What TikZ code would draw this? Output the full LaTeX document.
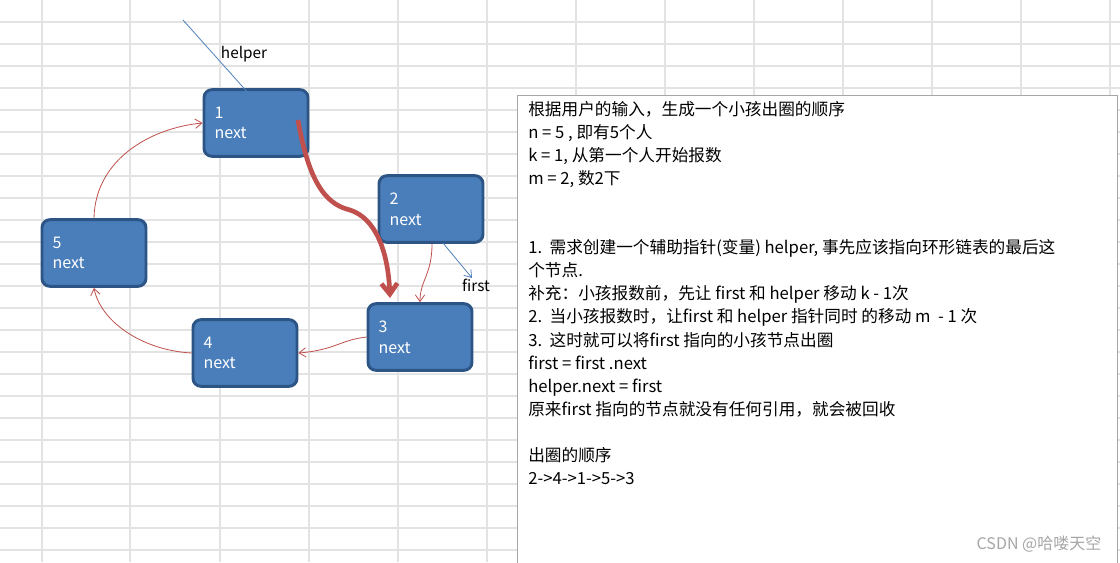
\documentclass[tikz,border=0pt]{standalone}
\usepackage{fontspec}
\setmainfont{Noto Sans CJK SC}
\usetikzlibrary{calc,arrows.meta}
\definecolor{boxblue}{HTML}{4A7EBB}
\definecolor{boxline}{HTML}{2C5585}
\definecolor{linkred}{HTML}{C0504D}
\definecolor{ptrblue}{HTML}{4F81BD}
\tikzset{
  knode/.style={draw=boxline,line width=2.2pt,fill=boxblue,rounded corners=6pt,
    minimum width=78pt,minimum height=50pt,text width=62pt,align=left,
    text=white,font=\fontsize{12}{15.5}\selectfont,inner sep=0pt},
  link/.style={draw=linkred,-{Straight Barb[length=5pt,width=7pt]},line width=0.6pt},
  ptr/.style={draw=ptrblue,line width=0.6pt}
}
\begin{document}
\begin{tikzpicture}[x=0.75pt,y=-0.75pt]
    \useasboundingbox(0,0)rectangle(1120,562);
    \fill[white](0,0)rectangle(1120,562);
    % grid of the sheet
    \foreach \y in {22,44,...,560}{
      \draw[black!11,line width=0.8pt](0,\y)--(1120,\y);
    }
    \foreach \x in {42,130,220,309,398,487,576,665,754,843,932,1021,1110}{
      \draw[black!11,line width=0.8pt](\x,0)--(\x,562);
    }
    % nodes of the ring
    \foreach \n/\x/\y in {1/256/123,2/431/209,3/420/337,4/245/353,5/94/253}{
      \node[knode](n\n) at(\x,\y) {\n\\next};
    }
    \draw[link](n5.north) .. controls (95,160) and (150,128) .. (n1.west);
    \draw[link](n4.west) .. controls (140,350) and (100,320) .. (n5.south);
    \draw[link](n3.west) .. controls (340,340) and (335,350) .. (n4.east);
    \draw[link](n2.south -| 432,0) .. controls (432,275) and (420,280) .. (n3.north);
    \draw[linkred,line width=3.5pt,-{Straight Barb[length=8pt,width=12pt]}]
      (298,120) .. controls (310,190) and (330,205) .. (350,210)
      .. controls (375,218) and (388,250) .. (390,298);
    % pointers
    \coordinate(hstart) at(183,20);
    \coordinate(fend) at(472,278);
    \draw[ptr](hstart)--(250,95);
    \node[font=\fontsize{11.5}{13}\selectfont](helper) at(244,54) {helper};
    \draw[ptr,-{Straight Barb[length=5pt,width=7pt]}](443,243)--(fend);
    \node[font=\fontsize{11.5}{13}\selectfont](first) at(476,285) {first};
    % text panel
    \draw[black!35,fill=white](517,95)rectangle(1117,570);
    \node[anchor=north west,align=left,inner sep=0pt,
      font=\fontsize{12.5}{17.3}\selectfont](notes) at(528,101) {%
      根据用户的输入，生成一个小孩出圈的顺序\\
      n = 5 , 即有5个人\\
      k = 1, 从第一个人开始报数\\
      m = 2, 数2下\\[34.6pt]
      1.\ \ 需求创建一个辅助指针(变量) helper, 事先应该指向环形链表的最后这\\
      个节点.\\
      补充：小孩报数前，先让 first 和 helper 移动 k - 1次\\
      2.\ \ 当小孩报数时，让first 和 helper 指针同时 的移动 m\ \ - 1 次\\
      3.\ \ 这时就可以将first 指向的小孩节点出圈\\
      first = first .next\\
      helper.next = first\\
      原来first 指向的节点就没有任何引用，就会被回收\\[17.3pt]
      出圈的顺序\\
      2->4->1->5->3};
    \node[anchor=east,text=black!35,font=\fontsize{12}{14}\selectfont](csdn) at(1106,544) {CSDN @哈喽天空};
\end{tikzpicture}
\end{document}
